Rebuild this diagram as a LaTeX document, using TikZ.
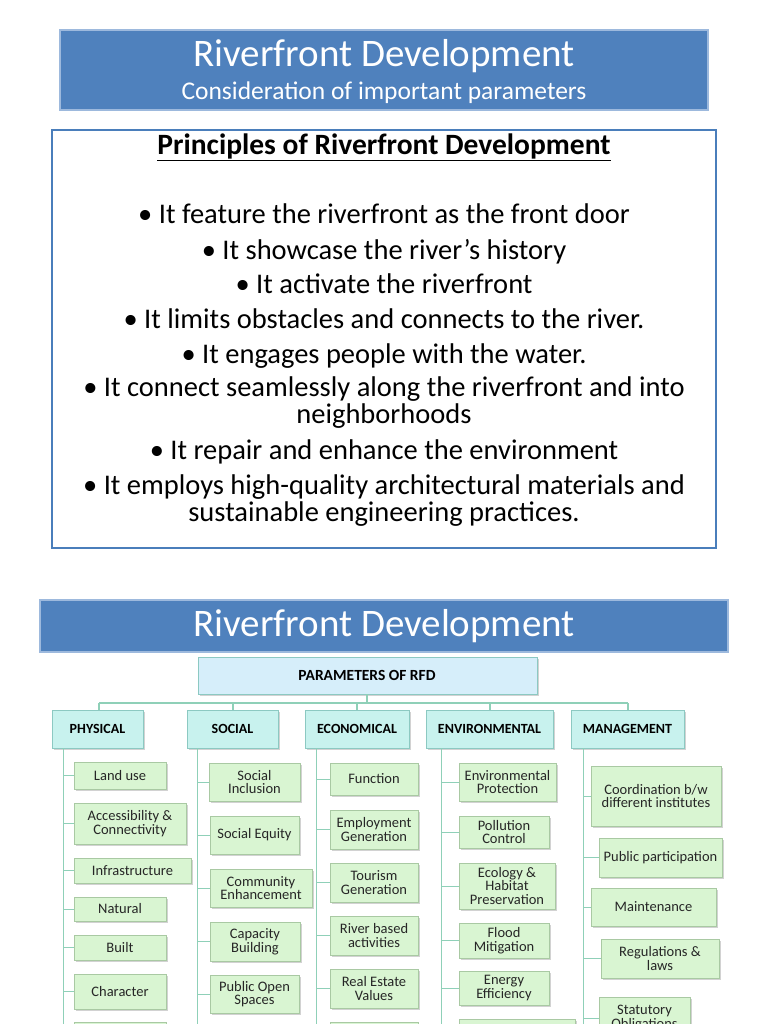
\documentclass[tikz,border=0pt]{standalone}
\usepackage{fontspec}
\setmainfont{Carlito}
\usetikzlibrary{shadows}
\definecolor{bann}{HTML}{4F81BD}
\definecolor{bannb}{HTML}{9DB9DD}
\definecolor{frame}{HTML}{4A7EBB}
\definecolor{rootf}{HTML}{D6EEFA}
\definecolor{catf}{HTML}{C8F2EE}
\definecolor{catd}{HTML}{8CC9C2}
\definecolor{leaf}{HTML}{D9F5D2}
\definecolor{leafd}{HTML}{A9C9A3}
\definecolor{ln}{HTML}{8FD0B8}
\tikzset{
 banner/.style={fill=bann,draw=bannb,line width=2pt},
 cat/.style={fill=catf,draw=catd,line width=0.8pt,drop shadow={shadow xshift=1.5pt,shadow yshift=-1.5pt,opacity=0.35}},
 leafbox/.style={fill=leaf,draw=leafd,line width=0.8pt,drop shadow={shadow xshift=1.5pt,shadow yshift=-1.5pt,opacity=0.35}},
 ctext/.style={font=\fontsize{14}{15}\selectfont\bfseries,align=center},
 ltext/.style={font=\fontsize{14.5}{13.5}\selectfont,align=center,text=black!85},
 conn/.style={draw=ln,line width=1.2pt},
 bullet/.style={font=\fontsize{28.5}{27}\selectfont,align=center,anchor=base},
}
\newcommand{\leafnode}[6]{% name, x1,y1,x2,y2,text
 \path[leafbox] (#2,#3) rectangle (#4,#5);
 \node[ltext] (#1) at ({(#2+#4)/2},{(#3+#5)/2}) {#6};
 \coordinate (#1w) at (#2,{(#3+#5)/2});
}
\begin{document}
\begin{tikzpicture}[x=1pt,y=-1pt]
\useasboundingbox (0,0) rectangle (768,1024);
\clip (0,0) rectangle (768,1024);
\fill[white] (0,0) rectangle (768,1024);
% top banner
\path[banner] (60,30) rectangle (708,110);
\node[text=white,font=\fontsize{39}{42}\selectfont] (t1) at (384,56) {Riverfront Development};
\node[text=white,font=\fontsize{25.5}{28}\selectfont] (t2) at (384,93) {Consideration of important parameters};
% principles box
\draw[frame,line width=1.5pt] (52,130) rectangle (716,548);
\node[font=\fontsize{29.5}{32}\selectfont\bfseries] (pt) at (384,147) {\underline{Principles of Riverfront Development}};
\node[bullet] (b1) at (384,224) {• It feature the riverfront as the front door};
\node[bullet] (b2) at (384,259) {• It showcase the river’s history};
\node[bullet] (b3) at (384,293) {• It activate the riverfront};
\node[bullet] (b4) at (384,328) {• It limits obstacles and connects to the river.};
\node[bullet] (b5) at (384,363) {• It engages people with the water.};
\node[bullet] (b6) at (384,423) {• It connect seamlessly along the riverfront and into\\neighborhoods};
\node[bullet] (b7) at (384,459) {• It repair and enhance the environment};
\node[bullet] (b8) at (384,521) {• It employs high-quality architectural materials and\\sustainable engineering practices.};
% second banner
\path[banner] (40,600) rectangle (728,652);
\node[text=white,font=\fontsize{39}{42}\selectfont] (t3) at (384,626) {Riverfront Development};
% root
\path[fill=rootf,draw=catd,line width=0.8pt,drop shadow={shadow xshift=1.5pt,shadow yshift=-1.5pt,opacity=0.35}] (198,657) rectangle (537,694);
\node[font=\fontsize{15.5}{16}\selectfont\bfseries] (root) at (367,675) {PARAMETERS OF RFD};
% horizontal bus
\draw[conn] (99,703) -- (628,703);
\draw[conn] (367,694) -- (367,703);
\foreach \x in {99,233,357,490,628} \draw[conn] (\x,703) -- (\x,710);
% categories
\path[cat] (52,710) rectangle (143,748);
\node[ctext] (phy) at (97.5,729) {PHYSICAL};
\path[cat] (187,710) rectangle (278,748);
\node[ctext] (soc) at (232.5,729) {SOCIAL};
\path[cat] (305,710) rectangle (409,748);
\node[ctext] (eco) at (357,729) {ECONOMICAL};
\path[cat] (426,710) rectangle (553,748);
\node[ctext] (env) at (489.5,729) {ENVIRONMENTAL};
\path[cat] (571,710) rectangle (684,748);
\node[ctext] (man) at (627.5,729) {MANAGEMENT};
% vertical lines
\foreach \x in {63,197,316,441,583} \draw[conn,line width=0.9pt] (\x,748) -- (\x,1030);
% physical
\leafnode{p1}{74}{762}{166}{789}{Land use}
\leafnode{p2}{74}{803}{186}{844}{Accessibility \&\\Connectivity}
\leafnode{p3}{74}{858}{191}{883}{Infrastructure}
\leafnode{p4}{74}{897}{166}{921}{Natural}
\leafnode{p5}{74}{935}{166}{960}{Built}
\leafnode{p6}{74}{974}{166}{1009}{Character}
\path[leafbox] (74,1022) rectangle (166,1050);
\foreach \n in {p1,p2,p3,p4,p5,p6} \draw[conn,line width=0.9pt] (63,0|-\n w) -- (\n w);
% social
\leafnode{s1}{209}{763}{300}{801}{Social\\Inclusion}
\leafnode{s2}{210}{816}{299}{854}{Social Equity}
\leafnode{s3}{210}{869}{312}{907}{Community\\Enhancement}
\leafnode{s4}{210}{922}{300}{961}{Capacity\\Building}
\leafnode{s5}{210}{975}{299}{1013}{Public Open\\Spaces}
\foreach \n in {s1,s2,s3,s4,s5} \draw[conn,line width=0.9pt] (197,0|-\n w) -- (\n w);
% economical
\leafnode{e1}{330}{763}{418}{795}{Function}
\leafnode{e2}{330}{810}{418}{849}{Employment\\Generation}
\leafnode{e3}{330}{863}{418}{902}{Tourism\\Generation}
\leafnode{e4}{330}{916}{418}{955}{River based\\activities}
\leafnode{e5}{330}{969}{418}{1008}{Real Estate\\Values}
\path[leafbox] (330,1022) rectangle (418,1050);
\foreach \n in {e1,e2,e3,e4,e5} \draw[conn,line width=0.9pt] (316,0|-\n w) -- (\n w);
% environmental
\leafnode{v1}{459}{763}{556}{801}{Environmental\\Protection}
\leafnode{v2}{459}{816}{549}{848}{Pollution\\Control}
\leafnode{v3}{459}{863}{555}{909}{Ecology \&\\Habitat\\Preservation}
\leafnode{v4}{459}{923}{549}{958}{Flood\\Mitigation}
\leafnode{v5}{459}{971}{549}{1005}{Energy\\Efficiency}
\path[leafbox] (459,1019) rectangle (575,1050);
\foreach \n in {v1,v2,v3,v4,v5} \draw[conn,line width=0.9pt] (441,0|-\n w) -- (\n w);
% management
\leafnode{m1}{591}{766}{721}{826}{Coordination b/w\\different institutes}
\leafnode{m2}{599}{838}{722}{877}{Public participation}
\leafnode{m3}{591}{888}{716}{926}{Maintenance}
\leafnode{m4}{601}{939}{719}{978}{Regulations \&\\laws}
\leafnode{m5}{599}{997}{690}{1039}{Statutory\\Obligations}
\foreach \n in {m1,m2,m3,m4,m5} \draw[conn,line width=0.9pt] (583,0|-\n w) -- (\n w);
\end{tikzpicture}
\end{document}
